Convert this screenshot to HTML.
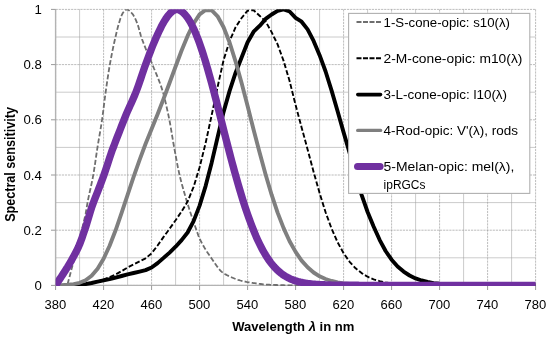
<!DOCTYPE html><html><head><meta charset="utf-8"><title>Spectral sensitivity</title>
<style>html,body{margin:0;padding:0;background:#fff}svg{display:block}text{font-family:"Liberation Sans", sans-serif;fill:#000}</style></head><body>
<svg width="550" height="338" viewBox="0 0 550 338">
<rect width="550" height="338" fill="#fff"/>
<defs><clipPath id="pa"><rect x="55.6" y="9.2" width="480.4" height="276.8"/></clipPath></defs>
<g id="grid"><line x1="55.6" y1="9.4" x2="55.6" y2="285.4" stroke="#8e8e8e" stroke-width="0.6" stroke-dasharray="2.2 0.9"/><line x1="79.6" y1="9.4" x2="79.6" y2="285.4" stroke="#a0a0a0" stroke-width="0.55"/><line x1="103.6" y1="9.4" x2="103.6" y2="285.4" stroke="#8e8e8e" stroke-width="0.6" stroke-dasharray="2.2 0.9"/><line x1="127.6" y1="9.4" x2="127.6" y2="285.4" stroke="#a0a0a0" stroke-width="0.55"/><line x1="151.6" y1="9.4" x2="151.6" y2="285.4" stroke="#8e8e8e" stroke-width="0.6" stroke-dasharray="2.2 0.9"/><line x1="175.6" y1="9.4" x2="175.6" y2="285.4" stroke="#a0a0a0" stroke-width="0.55"/><line x1="199.6" y1="9.4" x2="199.6" y2="285.4" stroke="#8e8e8e" stroke-width="0.6" stroke-dasharray="2.2 0.9"/><line x1="223.6" y1="9.4" x2="223.6" y2="285.4" stroke="#a0a0a0" stroke-width="0.55"/><line x1="247.6" y1="9.4" x2="247.6" y2="285.4" stroke="#8e8e8e" stroke-width="0.6" stroke-dasharray="2.2 0.9"/><line x1="271.6" y1="9.4" x2="271.6" y2="285.4" stroke="#a0a0a0" stroke-width="0.55"/><line x1="295.6" y1="9.4" x2="295.6" y2="285.4" stroke="#8e8e8e" stroke-width="0.6" stroke-dasharray="2.2 0.9"/><line x1="319.6" y1="9.4" x2="319.6" y2="285.4" stroke="#a0a0a0" stroke-width="0.55"/><line x1="343.6" y1="9.4" x2="343.6" y2="285.4" stroke="#8e8e8e" stroke-width="0.6" stroke-dasharray="2.2 0.9"/><line x1="367.6" y1="9.4" x2="367.6" y2="285.4" stroke="#a0a0a0" stroke-width="0.55"/><line x1="391.6" y1="9.4" x2="391.6" y2="285.4" stroke="#8e8e8e" stroke-width="0.6" stroke-dasharray="2.2 0.9"/><line x1="415.6" y1="9.4" x2="415.6" y2="285.4" stroke="#a0a0a0" stroke-width="0.55"/><line x1="439.6" y1="9.4" x2="439.6" y2="285.4" stroke="#8e8e8e" stroke-width="0.6" stroke-dasharray="2.2 0.9"/><line x1="463.6" y1="9.4" x2="463.6" y2="285.4" stroke="#a0a0a0" stroke-width="0.55"/><line x1="487.6" y1="9.4" x2="487.6" y2="285.4" stroke="#8e8e8e" stroke-width="0.6" stroke-dasharray="2.2 0.9"/><line x1="511.6" y1="9.4" x2="511.6" y2="285.4" stroke="#a0a0a0" stroke-width="0.55"/><line x1="535.6" y1="9.4" x2="535.6" y2="285.4" stroke="#8e8e8e" stroke-width="0.6" stroke-dasharray="2.2 0.9"/><line x1="55.6" y1="285.4" x2="535.6" y2="285.4" stroke="#8e8e8e" stroke-width="0.6" stroke-dasharray="2.2 0.9"/><line x1="55.6" y1="257.8" x2="535.6" y2="257.8" stroke="#a0a0a0" stroke-width="0.55"/><line x1="55.6" y1="230.2" x2="535.6" y2="230.2" stroke="#8e8e8e" stroke-width="0.6" stroke-dasharray="2.2 0.9"/><line x1="55.6" y1="202.6" x2="535.6" y2="202.6" stroke="#a0a0a0" stroke-width="0.55"/><line x1="55.6" y1="175.0" x2="535.6" y2="175.0" stroke="#8e8e8e" stroke-width="0.6" stroke-dasharray="2.2 0.9"/><line x1="55.6" y1="147.4" x2="535.6" y2="147.4" stroke="#a0a0a0" stroke-width="0.55"/><line x1="55.6" y1="119.8" x2="535.6" y2="119.8" stroke="#8e8e8e" stroke-width="0.6" stroke-dasharray="2.2 0.9"/><line x1="55.6" y1="92.2" x2="535.6" y2="92.2" stroke="#a0a0a0" stroke-width="0.55"/><line x1="55.6" y1="64.6" x2="535.6" y2="64.6" stroke="#8e8e8e" stroke-width="0.6" stroke-dasharray="2.2 0.9"/><line x1="55.6" y1="37.0" x2="535.6" y2="37.0" stroke="#a0a0a0" stroke-width="0.55"/><line x1="55.6" y1="9.4" x2="535.6" y2="9.4" stroke="#8e8e8e" stroke-width="0.6" stroke-dasharray="2.2 0.9"/></g>
<g id="axes"><line x1="55.6" y1="9.4" x2="55.6" y2="285.9" stroke="#b3b3b3" stroke-width="1.4"/><line x1="55.1" y1="285.4" x2="535.6" y2="285.4" stroke="#b3b3b3" stroke-width="1.4"/><line x1="51.0" y1="285.4" x2="55.6" y2="285.4" stroke="#9a9a9a" stroke-width="1"/><line x1="51.0" y1="230.2" x2="55.6" y2="230.2" stroke="#9a9a9a" stroke-width="1"/><line x1="51.0" y1="175.0" x2="55.6" y2="175.0" stroke="#9a9a9a" stroke-width="1"/><line x1="51.0" y1="119.8" x2="55.6" y2="119.8" stroke="#9a9a9a" stroke-width="1"/><line x1="51.0" y1="64.6" x2="55.6" y2="64.6" stroke="#9a9a9a" stroke-width="1"/><line x1="51.0" y1="9.4" x2="55.6" y2="9.4" stroke="#9a9a9a" stroke-width="1"/><line x1="55.6" y1="285.4" x2="55.6" y2="290.0" stroke="#9a9a9a" stroke-width="1"/><line x1="103.6" y1="285.4" x2="103.6" y2="290.0" stroke="#9a9a9a" stroke-width="1"/><line x1="151.6" y1="285.4" x2="151.6" y2="290.0" stroke="#9a9a9a" stroke-width="1"/><line x1="199.6" y1="285.4" x2="199.6" y2="290.0" stroke="#9a9a9a" stroke-width="1"/><line x1="247.6" y1="285.4" x2="247.6" y2="290.0" stroke="#9a9a9a" stroke-width="1"/><line x1="295.6" y1="285.4" x2="295.6" y2="290.0" stroke="#9a9a9a" stroke-width="1"/><line x1="343.6" y1="285.4" x2="343.6" y2="290.0" stroke="#9a9a9a" stroke-width="1"/><line x1="391.6" y1="285.4" x2="391.6" y2="290.0" stroke="#9a9a9a" stroke-width="1"/><line x1="439.6" y1="285.4" x2="439.6" y2="290.0" stroke="#9a9a9a" stroke-width="1"/><line x1="487.6" y1="285.4" x2="487.6" y2="290.0" stroke="#9a9a9a" stroke-width="1"/><line x1="535.6" y1="285.4" x2="535.6" y2="290.0" stroke="#9a9a9a" stroke-width="1"/></g>
<g clip-path="url(#pa)" fill="none" stroke-linejoin="round">
<polyline points="67.6,284.0 68.8,279.5 70.0,275.0 71.2,270.4 72.4,265.9 73.6,261.3 74.8,256.8 76.0,252.2 77.2,247.7 78.4,243.1 79.6,238.5 80.8,233.8 82.0,229.1 83.2,224.2 84.4,219.3 85.6,213.9 86.8,206.9 88.0,200.1 89.2,194.3 90.4,189.0 91.6,183.5 92.8,177.6 94.0,170.7 95.2,162.8 96.4,154.5 97.6,146.6 98.8,139.4 100.0,132.5 101.2,125.3 102.4,117.3 103.6,108.1 104.8,98.5 106.0,89.7 107.2,81.3 108.4,73.3 109.6,66.0 110.8,59.3 112.0,53.1 113.2,47.3 114.4,41.8 115.6,36.5 116.8,31.3 118.0,26.5 119.2,22.4 120.4,18.6 121.6,15.3 122.8,13.0 124.0,11.4 125.2,10.2 126.4,9.5 127.6,9.5 128.8,10.2 130.0,11.2 131.2,12.5 132.4,13.8 133.6,15.6 134.8,17.8 136.0,20.4 137.2,23.2 138.4,26.8 139.6,31.2 140.8,35.5 142.0,39.1 143.2,42.3 144.4,45.4 145.6,48.4 146.8,51.2 148.0,54.0 149.2,56.8 150.4,59.6 151.6,62.5 152.8,65.5 154.0,68.5 155.2,71.3 156.4,74.2 157.6,77.1 158.8,80.1 160.0,83.2 161.2,86.6 162.4,90.3 163.6,94.3 164.8,99.0 166.0,104.2 167.2,109.6 168.4,115.1 169.6,121.0 170.8,127.7 172.0,134.9 173.2,142.0 174.4,148.7 175.6,155.2 176.8,161.7 178.0,167.8 179.2,173.4 180.4,178.5 181.6,183.2 182.8,187.6 184.0,191.8 185.2,195.9 186.4,199.9 187.6,203.8 188.8,207.6 190.0,211.3 191.2,215.0 192.4,218.6 193.6,222.1 194.8,225.5 196.0,228.9 197.2,232.2 198.4,235.6 199.6,238.5 200.8,241.0 202.0,243.3 203.2,245.5 204.4,247.6 205.6,249.6 206.8,251.5 208.0,253.3 209.2,255.0 210.4,256.8 211.6,258.5 212.8,260.2 214.0,262.0 215.2,263.8 216.4,265.5 217.6,267.1 218.8,268.7 220.0,270.1 221.2,271.4 222.4,272.4 223.6,273.3 224.8,274.0 226.0,274.6 227.2,275.3 228.4,275.9 229.6,276.5 230.8,277.0 232.0,277.5 233.2,278.0 234.4,278.5 235.6,279.0 236.8,279.4 238.0,279.8 239.2,280.1 240.4,280.5 241.6,280.8 242.8,281.1 244.0,281.4 245.2,281.6 246.4,281.9 247.6,282.1 248.8,282.3 250.0,282.5 251.2,282.7 252.4,282.9 253.6,283.1 254.8,283.2 256.0,283.4 257.2,283.6 258.4,283.7 259.6,283.9 260.8,284.0 262.0,284.1 263.2,284.3 264.4,284.4 265.6,284.5 266.8,284.6 268.0,284.7 269.2,284.7 270.4,284.8 271.6,284.8 272.8,284.9 274.0,284.9 275.2,285.0 276.4,285.0 277.6,285.1 278.8,285.1 280.0,285.1 281.2,285.2 282.4,285.2 283.6,285.2 284.8,285.3 286.0,285.3 287.2,285.3 288.4,285.3 289.6,285.4 290.8,285.4 292.0,285.4 293.2,285.4 294.4,285.4 295.6,285.4 296.8,285.4 298.0,285.4 299.2,285.4 300.4,285.4 301.6,285.4 302.8,285.4 304.0,285.4 305.2,285.4 306.4,285.4 307.6,285.4 308.8,285.4 310.0,285.4 311.2,285.4 312.4,285.4 313.6,285.4 314.8,285.4 316.0,285.4 317.2,285.4 318.4,285.4 319.6,285.4 535.6,285.4" stroke="#6e6e6e" stroke-width="1.8" stroke-dasharray="5 2.2"/>
<polyline points="67.6,285.3 73.6,285.1 79.6,284.8 85.6,284.1 91.6,283.0 97.6,281.4 103.6,279.4 109.6,277.2 115.6,274.5 121.6,271.1 127.6,267.5 133.6,264.5 139.6,261.4 145.6,258.3 151.6,253.3 157.6,245.5 163.6,236.9 169.6,228.7 175.6,220.3 181.6,211.4 187.6,201.6 193.6,186.9 199.6,167.3 205.6,143.1 211.6,115.5 217.6,86.9 223.6,60.0 229.6,41.0 235.6,27.2 241.6,18.0 247.6,10.7 253.6,10.2 259.6,15.7 265.6,21.4 271.6,32.1 277.6,44.4 283.6,60.9 289.6,81.1 295.6,105.1 301.6,127.4 307.6,149.4 313.6,171.9 319.6,193.1 325.6,212.3 331.6,228.7 337.6,242.3 343.6,253.2 349.6,261.8 355.6,268.3 361.6,273.1 367.6,276.7 373.6,279.4 379.6,281.1 385.6,282.4 391.6,283.4 397.6,284.0 403.6,284.5 409.6,284.7 415.6,284.9 421.6,285.1 427.6,285.2 433.6,285.3 439.6,285.3 445.6,285.3 451.6,285.4 457.6,285.4 463.6,285.4 469.6,285.4 475.6,285.4 481.6,285.4 487.6,285.4 493.6,285.4 499.6,285.4 505.6,285.4 511.6,285.4 517.6,285.4 523.6,285.4 529.6,285.4 535.6,285.4" stroke="#000" stroke-width="1.9" stroke-dasharray="5 2.2"/>
<polyline points="67.6,285.3 73.6,285.1 79.6,284.7 85.6,284.1 91.6,283.0 97.6,281.7 103.6,280.3 109.6,279.1 115.6,277.6 121.6,276.0 127.6,274.3 133.6,273.0 139.6,271.6 145.6,270.1 151.6,267.5 157.6,263.1 163.6,257.9 169.6,252.6 175.6,246.7 181.6,240.1 187.6,232.5 193.6,221.1 199.6,205.6 205.6,186.1 211.6,162.9 217.6,137.3 223.6,111.9 229.6,90.9 235.6,72.7 241.6,57.5 247.6,42.2 253.6,31.7 259.6,25.9 265.6,18.9 271.6,14.5 277.6,10.9 283.6,9.4 289.6,11.5 295.6,17.8 301.6,21.7 307.6,29.4 313.6,40.9 319.6,55.2 325.6,71.5 331.6,90.6 337.6,111.3 343.6,132.4 349.6,152.9 355.6,174.8 361.6,194.9 367.6,212.0 373.6,226.5 379.6,239.8 385.6,251.0 391.6,259.7 397.6,266.5 403.6,271.6 409.6,275.5 415.6,278.4 421.6,280.5 427.6,282.0 433.6,283.1 439.6,283.8 445.6,284.3 451.6,284.6 457.6,284.9 463.6,285.0 469.6,285.1 475.6,285.2 481.6,285.3 487.6,285.3 493.6,285.3 499.6,285.4 505.6,285.4 511.6,285.4 517.6,285.4 523.6,285.4 529.6,285.4 535.6,285.4" stroke="#000" stroke-width="3.9"/>
<polyline points="55.6,285.2 61.6,285.1 67.6,284.8 73.6,284.1 79.6,282.8 85.6,280.3 91.6,275.8 97.6,268.7 103.6,258.7 109.6,245.8 115.6,230.3 121.6,212.9 127.6,194.8 133.6,176.9 139.6,159.8 145.6,143.8 151.6,128.9 157.6,114.3 163.6,98.8 169.6,82.8 175.6,66.5 181.6,50.5 187.6,35.9 193.6,23.5 199.6,14.4 205.6,10.0 211.6,10.2 217.6,16.3 223.6,27.3 229.6,42.5 235.6,61.6 241.6,83.1 247.6,106.0 253.6,129.7 259.6,152.6 265.6,174.4 271.6,194.7 277.6,212.6 283.6,228.1 289.6,241.2 295.6,251.9 301.6,260.6 307.6,267.3 313.6,272.5 319.6,276.3 325.6,279.0 331.6,281.0 337.6,282.4 343.6,283.4 349.6,284.0 355.6,284.5 361.6,284.8 367.6,285.0 373.6,285.1 379.6,285.2 385.6,285.4 391.6,285.4 397.6,285.4 403.6,285.4 409.6,285.4 415.6,285.4 421.6,285.4 427.6,285.4 433.6,285.4 439.6,285.4 445.6,285.4 451.6,285.4 457.6,285.4 463.6,285.4 469.6,285.4 475.6,285.4 481.6,285.4 487.6,285.4 493.6,285.4 499.6,285.4 505.6,285.4 511.6,285.4 517.6,285.4 523.6,285.4 529.6,285.4 535.6,285.4" stroke="#7f7f7f" stroke-width="3.9"/>
<polyline points="55.6,285.4 56.8,283.6 58.0,281.7 59.2,279.9 60.4,278.1 61.6,276.3 62.8,274.4 64.0,272.6 65.2,270.7 66.4,268.8 67.6,266.9 68.8,264.9 70.0,262.9 71.2,260.8 72.4,258.7 73.6,256.5 74.8,254.3 76.0,252.0 77.2,249.6 78.4,247.1 79.6,244.3 80.8,241.2 82.0,237.9 83.2,234.4 84.4,230.9 85.6,227.4 86.8,223.5 88.0,219.5 89.2,215.5 90.4,211.5 91.6,207.6 92.8,204.2 94.0,201.0 95.2,197.9 96.4,194.9 97.6,191.8 98.8,188.7 100.0,185.6 101.2,182.4 102.4,179.2 103.6,175.9 104.8,172.5 106.0,168.9 107.2,165.3 108.4,161.6 109.6,157.9 110.8,154.3 112.0,150.8 113.2,147.6 114.4,144.5 115.6,141.3 116.8,138.2 118.0,135.1 119.2,132.1 120.4,129.0 121.6,125.9 122.8,122.8 124.0,119.8 125.2,116.8 126.4,113.9 127.6,111.1 128.8,108.4 130.0,105.8 131.2,103.2 132.4,100.5 133.6,97.8 134.8,95.0 136.0,92.0 137.2,88.8 138.4,85.5 139.6,82.1 140.8,78.5 142.0,74.9 143.2,71.4 144.4,67.8 145.6,64.5 146.8,61.2 148.0,57.9 149.2,54.7 150.4,51.6 151.6,48.5 152.8,45.5 154.0,42.6 155.2,39.8 156.4,37.0 157.6,34.4 158.8,31.8 160.0,29.3 161.2,26.8 162.4,24.6 163.6,22.4 164.8,20.4 166.0,18.5 167.2,16.8 168.4,15.2 169.6,13.9 170.8,12.7 172.0,11.6 173.2,10.7 174.4,10.0 175.6,9.6 176.8,9.4 178.0,9.6 179.2,10.0 180.4,10.6 181.6,11.4 182.8,12.3 184.0,13.4 185.2,14.7 186.4,16.2 187.6,17.8 188.8,19.6 190.0,21.6 191.2,23.8 192.4,26.1 193.6,28.6 194.8,31.3 196.0,34.1 197.2,37.1 198.4,40.2 199.6,43.5 200.8,46.9 202.0,50.5 203.2,54.2 204.4,58.0 205.6,61.9 206.8,66.0 208.0,70.1 209.2,74.4 210.4,78.7 211.6,83.1 212.8,87.6 214.0,92.1 215.2,96.7 216.4,101.3 217.6,106.0 218.8,110.7 220.0,115.4 221.2,120.1 222.4,124.9 223.6,129.6 224.8,134.3 226.0,139.1 227.2,143.7 228.4,148.4 229.6,153.0 230.8,157.6 232.0,162.1 233.2,166.5 234.4,171.0 235.6,175.3 236.8,179.6 238.0,183.8 239.2,187.9 240.4,191.9 241.6,195.9 242.8,199.8 244.0,203.6 245.2,207.3 246.4,210.9 247.6,214.4 248.8,217.8 250.0,221.1 251.2,224.3 252.4,227.4 253.6,230.4 254.8,233.3 256.0,236.2 257.2,238.9 258.4,241.5 259.6,244.0 260.8,246.4 262.0,248.7 263.2,250.9 264.4,253.0 265.6,255.0 266.8,256.9 268.0,258.8 269.2,260.5 270.4,262.2 271.6,263.7 272.8,265.2 274.0,266.6 275.2,267.9 276.4,269.1 277.6,270.3 278.8,271.4 280.0,272.4 281.2,273.4 282.4,274.3 283.6,275.1 284.8,275.9 286.0,276.6 287.2,277.3 288.4,277.9 289.6,278.5 290.8,279.1 292.0,279.6 293.2,280.0 294.4,280.5 295.6,280.9 296.8,281.2 298.0,281.6 299.2,281.9 300.4,282.2 301.6,282.4 302.8,282.7 304.0,282.9 305.2,283.1 306.4,283.3 307.6,283.5 308.8,283.6 310.0,283.8 311.2,283.9 312.4,284.1 313.6,284.2 314.8,284.3 316.0,284.4 317.2,284.5 318.4,284.5 319.6,284.6 320.8,284.7 322.0,284.7 323.2,284.8 324.4,284.8 325.6,284.9 326.8,284.9 328.0,285.0 329.2,285.0 330.4,285.0 331.6,285.1 332.8,285.1 334.0,285.1 335.2,285.1 336.4,285.2 337.6,285.2 338.8,285.2 340.0,285.2 341.2,285.2 342.4,285.2 343.6,285.3 344.8,285.3 346.0,285.3 347.2,285.3 348.4,285.3 349.6,285.3 350.8,285.3 352.0,285.3 353.2,285.3 354.4,285.3 355.6,285.3 356.8,285.3 358.0,285.3 359.2,285.4 360.4,285.4 361.6,285.4 362.8,285.4 364.0,285.4 365.2,285.4 366.4,285.4 367.6,285.4 368.8,285.4 370.0,285.4 371.2,285.4 372.4,285.4 373.6,285.4 374.8,285.4 376.0,285.4 377.2,285.4 378.4,285.4 379.6,285.4 380.8,285.4 382.0,285.4 383.2,285.4 384.4,285.4 385.6,285.4 386.8,285.4 388.0,285.4 389.2,285.4 390.4,285.4 391.6,285.4 392.8,285.4 394.0,285.4 395.2,285.4 396.4,285.4 397.6,285.4 398.8,285.4 400.0,285.4 401.2,285.4 402.4,285.4 403.6,285.4 404.8,285.4 406.0,285.4 407.2,285.4 408.4,285.4 409.6,285.4 410.8,285.4 412.0,285.4 413.2,285.4 414.4,285.4 415.6,285.4 416.8,285.4 418.0,285.4 419.2,285.4 420.4,285.4 421.6,285.4 422.8,285.4 424.0,285.4 425.2,285.4 426.4,285.4 427.6,285.4 428.8,285.4 430.0,285.4 431.2,285.4 432.4,285.4 433.6,285.4 434.8,285.4 436.0,285.4 437.2,285.4 438.4,285.4 439.6,285.4 440.8,285.4 442.0,285.4 443.2,285.4 444.4,285.4 445.6,285.4 446.8,285.4 448.0,285.4 449.2,285.4 450.4,285.4 451.6,285.4 452.8,285.4 454.0,285.4 455.2,285.4 456.4,285.4 457.6,285.4 458.8,285.4 460.0,285.4 461.2,285.4 462.4,285.4 463.6,285.4 464.8,285.4 466.0,285.4 467.2,285.4 468.4,285.4 469.6,285.4 470.8,285.4 472.0,285.4 473.2,285.4 474.4,285.4 475.6,285.4 476.8,285.4 478.0,285.4 479.2,285.4 480.4,285.4 481.6,285.4 482.8,285.4 484.0,285.4 485.2,285.4 486.4,285.4 487.6,285.4 488.8,285.4 490.0,285.4 491.2,285.4 492.4,285.4 493.6,285.4 494.8,285.4 496.0,285.4 497.2,285.4 498.4,285.4 499.6,285.4 500.8,285.4 502.0,285.4 503.2,285.4 504.4,285.4 505.6,285.4 506.8,285.4 508.0,285.4 509.2,285.4 510.4,285.4 511.6,285.4 512.8,285.4 514.0,285.4 515.2,285.4 516.4,285.4 517.6,285.4 518.8,285.4 520.0,285.4 521.2,285.4 522.4,285.4 523.6,285.4 524.8,285.4 526.0,285.4 527.2,285.4 528.4,285.4 529.6,285.4 530.8,285.4 532.0,285.4 533.2,285.4 534.4,285.4 535.6,285.4" stroke="#7030a0" stroke-width="7.4"/>
</g>
<g id="ticklabels"><text x="41.8" y="290.0" font-size="13.2" text-anchor="end">0</text><text x="41.8" y="234.8" font-size="13.2" text-anchor="end">0.2</text><text x="41.8" y="179.6" font-size="13.2" text-anchor="end">0.4</text><text x="41.8" y="124.4" font-size="13.2" text-anchor="end">0.6</text><text x="41.8" y="69.2" font-size="13.2" text-anchor="end">0.8</text><text x="41.8" y="14.0" font-size="13.2" text-anchor="end">1</text><text x="55.3" y="308.9" font-size="13" text-anchor="middle">380</text><text x="103.3" y="308.9" font-size="13" text-anchor="middle">420</text><text x="151.3" y="308.9" font-size="13" text-anchor="middle">460</text><text x="199.3" y="308.9" font-size="13" text-anchor="middle">500</text><text x="247.3" y="308.9" font-size="13" text-anchor="middle">540</text><text x="295.3" y="308.9" font-size="13" text-anchor="middle">580</text><text x="343.3" y="308.9" font-size="13" text-anchor="middle">620</text><text x="391.3" y="308.9" font-size="13" text-anchor="middle">660</text><text x="439.3" y="308.9" font-size="13" text-anchor="middle">700</text><text x="487.3" y="308.9" font-size="13" text-anchor="middle">740</text><text x="535.3" y="308.9" font-size="13" text-anchor="middle">780</text></g>
<text x="232.2" y="331.1" font-size="13.2" font-weight="bold" textLength="122.2" lengthAdjust="spacingAndGlyphs">Wavelength <tspan font-style="italic">λ</tspan> in nm</text>
<text transform="translate(15,221.8) rotate(-90)" font-size="13.8" font-weight="bold" textLength="114.7" lengthAdjust="spacingAndGlyphs">Spectral sensitivity</text>
<rect x="348.6" y="13.4" width="181.2" height="180" fill="#fff" stroke="#b0b0b0" stroke-width="1.1"/>
<line x1="356.5" y1="22.0" x2="381.6" y2="22.0" stroke="#6e6e6e" stroke-width="1.8" stroke-linecap="butt" stroke-dasharray="5 1.5"/>
<text x="383.6" y="26.7" font-size="13.2" textLength="126.3" lengthAdjust="spacingAndGlyphs">1-S-cone-opic: s10(λ)</text>
<line x1="356.5" y1="58.3" x2="381.6" y2="58.3" stroke="#000" stroke-width="1.9" stroke-linecap="butt" stroke-dasharray="5 1.5"/>
<text x="383.6" y="63.0" font-size="13.2" textLength="138.8" lengthAdjust="spacingAndGlyphs">2-M-cone-opic: m10(λ)</text>
<line x1="357.8" y1="94.6" x2="380.5" y2="94.6" stroke="#000" stroke-width="3.6" stroke-linecap="round"/>
<text x="383.6" y="99.3" font-size="13.2" textLength="123.5" lengthAdjust="spacingAndGlyphs">3-L-cone-opic: l10(λ)</text>
<line x1="357.7" y1="130.4" x2="380.6" y2="130.4" stroke="#7f7f7f" stroke-width="3.4" stroke-linecap="round"/>
<text x="383.6" y="135.1" font-size="13.2" textLength="134.4" lengthAdjust="spacingAndGlyphs">4-Rod-opic: V'(λ), rods</text>
<line x1="357.5" y1="166.4" x2="380.1" y2="166.4" stroke="#7030a0" stroke-width="7" stroke-linecap="round"/>
<text x="383.6" y="171.1" font-size="13.2" textLength="130.7" lengthAdjust="spacingAndGlyphs">5-Melan-opic: mel(λ),</text>
<text x="383.6" y="188.9" font-size="13.2" textLength="41.8" lengthAdjust="spacingAndGlyphs">ipRGCs</text>
</svg></body></html>
